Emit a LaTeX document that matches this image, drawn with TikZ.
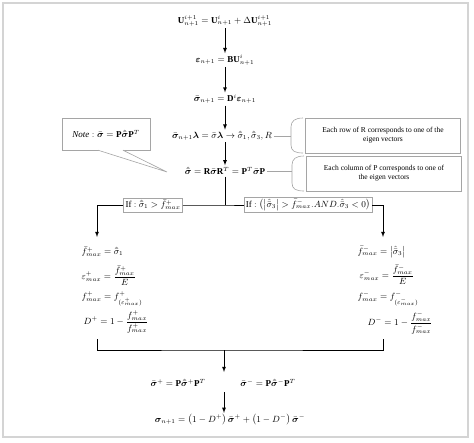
\documentclass[tikz,border=0pt]{standalone}
\usepackage{amsmath,bm}
\usepackage{fontspec}
\setmainfont{Liberation Serif}
\definecolor{framegray}{RGB}{212,212,212}
\definecolor{boxgray}{RGB}{165,165,165}

\begin{document}
\begin{tikzpicture}[x=1pt,y=-1pt,
  eq/.style={inner sep=1.5pt,font=\small},
  flow/.style={-latex,line width=.8pt},
  wire/.style={line width=.8pt},
  cond/.style={draw=boxgray,fill=white,inner sep=2pt,font=\small},
  remark/.style={draw=boxgray,fill=white,align=center,font=\fontsize{7.5}{9}\selectfont,minimum width=155pt,minimum height=35pt},
  tag/.style={draw=boxgray,line width=.6pt}]
\useasboundingbox (0,0) rectangle (474,442);
\draw[framegray,line width=1.5pt] (3,3) rectangle (468,437);

% main chain
\node[eq] (eqU)   at (225,21)  {$\mathbf{U}^{i+1}_{n+1}=\mathbf{U}^{i}_{n+1}+\Delta\mathbf{U}^{i+1}_{n+1}$};
\node[eq] (eqEps) at (225,60)  {$\bm{\varepsilon}_{n+1}=\mathbf{B}\mathbf{U}^{i}_{n+1}$};
\node[eq] (eqSig) at (225,99)  {$\bar{\bm{\sigma}}_{n+1}=\mathbf{D}^{i}\bm{\varepsilon}_{n+1}$};
\node[eq] (eqEig) at (222,136) {$\bar{\bm{\sigma}}_{n+1}\bm{\lambda}=\bar{\sigma}\bm{\lambda}\rightarrow\hat{\bar{\sigma}}_1,\hat{\bar{\sigma}}_3,R$};
\node[eq] (eqHat) at (225,171) {$\hat{\bar{\bm{\sigma}}}=\mathbf{R}\bar{\bm{\sigma}}\mathbf{R}^{T}=\mathbf{P}^{T}\bar{\bm{\sigma}}\mathbf{P}$};
\draw[flow] (eqU) -- (eqEps);
\draw[flow] (eqEps) -- (eqSig);
\draw[flow] (eqSig) -- (eqSig |- eqEig.north);
\draw[flow] (eqSig |- eqEig.south) -- (eqHat);

% remarks
\node[remark] (rowR) at (383,135.5) {Each row of R corresponds to one of the\\eigen vectors};
\node[remark] (colP) at (384,173.5) {Each column of P corresponds to one of\\the eigen vectors};
\coordinate (bkA) at (291,136);
\coordinate (bkB) at (292,171);
\draw[tag] (303,118) .. controls (295,118) and (291,121) .. (291,127) -- (291,145) .. controls (291,151) and (295,153) .. (303,153);
\draw[tag] (304,156) .. controls (296,156) and (292,159) .. (292,165) -- (292,183) .. controls (292,189) and (296,191) .. (304,191);
\draw[tag] (eqEig) -- (bkA);
\draw[tag] (eqHat) -- (bkB);

% note callout
\node[draw=boxgray,fill=white,minimum width=88pt,minimum height=32pt,font=\small] (note) at (106,134)
  {$\mathit{Note}:\bar{\bm{\sigma}}=\mathbf{P}\hat{\bar{\bm{\sigma}}}\mathbf{P}^{T}$};
\coordinate (noteTip) at (167,172);
\draw[tag,fill=white] ([xshift=-8pt]note.south) -- (noteTip) -- ([xshift=17pt]note.south);

% branches
\coordinate (split) at (225,205);
\node[cond] (ifL) at (153,205) {If $:\hat{\bar{\sigma}}_1>\bar{f}^{+}_{max}$};
\node[cond] (ifR) at (308,205) {If $:\left(\left|\hat{\bar{\sigma}}_3\right|>\bar{f}^{-}_{max}.AND.\hat{\bar{\sigma}}_3<0\right)$};
\draw[wire] (eqHat) -- (split);
\draw[wire] (ifL) -- (split) -- (ifR);
\coordinate (Ltop) at (97,237);
\coordinate (Rtop) at (383,237);
\draw[flow] (ifL) -| (Ltop);
\draw[flow] (ifR) -| (Rtop);

\node[eq,anchor=west] (Lf) at (80,252) {$\bar{f}^{+}_{max}=\hat{\bar{\sigma}}_1$};
\node[eq,anchor=west] (Le) at (80,276) {$\varepsilon^{+}_{max}=\dfrac{\bar{f}^{+}_{max}}{E}$};
\node[eq,anchor=west] (Lg) at (80,299) {$f^{+}_{max}=f^{+}_{(\varepsilon^{+}_{max})}$};
\node[eq,anchor=west] (Ld) at (82,322) {$D^{+}=1-\dfrac{f^{+}_{max}}{\bar{f}^{+}_{max}}$};

\node[eq,anchor=west] (Rf) at (356,252) {$\bar{f}^{-}_{max}=\left|\hat{\bar{\sigma}}_3\right|$};
\node[eq,anchor=west] (Re) at (358,275) {$\varepsilon^{-}_{max}=\dfrac{\bar{f}^{-}_{max}}{E}$};
\node[eq,anchor=west] (Rg) at (356,299) {$f^{-}_{max}=f^{-}_{(\varepsilon^{-}_{max})}$};
\node[eq,anchor=west] (Rd) at (366,323) {$D^{-}=1-\dfrac{f^{-}_{max}}{\bar{f}^{-}_{max}}$};

% merge
\coordinate (Lbot) at (97,339);
\coordinate (Rbot) at (383,339);
\coordinate (join) at (224,350);
\draw[wire] (Lbot) |- (join) -| (Rbot);
\coordinate (midTop) at (224,372);
\coordinate (midBot) at (224,392);
\node[eq] (sPlus)  at (178,383) {$\bar{\bm{\sigma}}^{+}=\mathbf{P}\hat{\bar{\bm{\sigma}}}^{+}\mathbf{P}^{T}$};
\node[eq] (sMinus) at (268,383) {$\bar{\bm{\sigma}}^{-}=\mathbf{P}\hat{\bar{\bm{\sigma}}}^{-}\mathbf{P}^{T}$};
\node[eq] (eqFin)  at (230,420) {$\bm{\sigma}_{n+1}=\left(1-D^{+}\right)\bar{\bm{\sigma}}^{+}+\left(1-D^{-}\right)\bar{\bm{\sigma}}^{-}$};
\draw[flow] (join) -- (midTop);
\draw[flow] (midBot) -- (midBot |- eqFin.north);
\end{tikzpicture}
\end{document}
